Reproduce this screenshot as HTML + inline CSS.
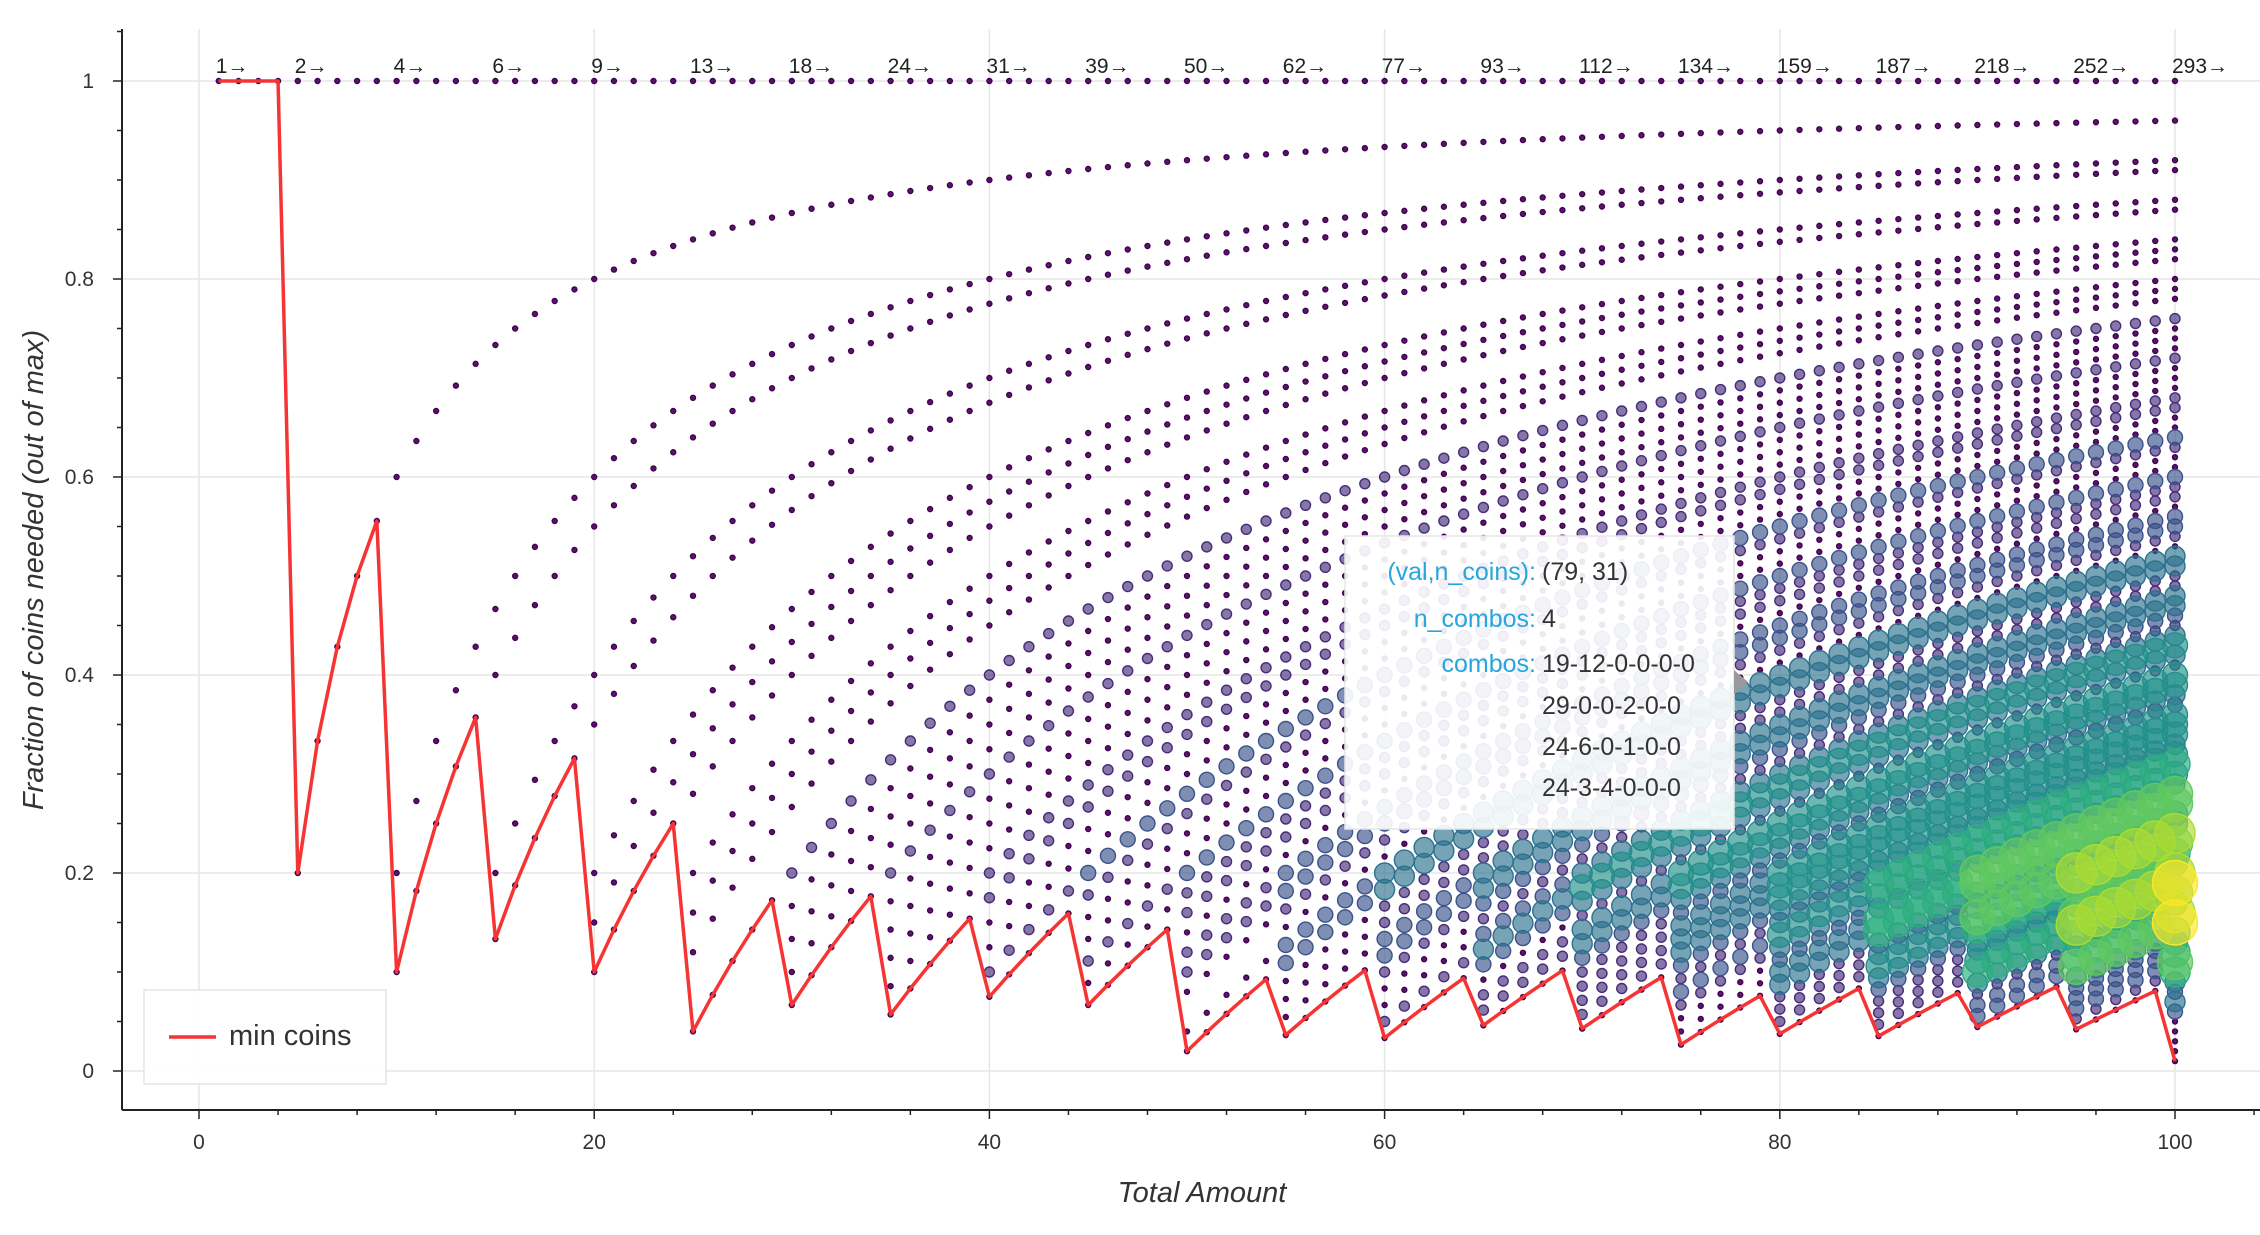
<!DOCTYPE html>
<html><head><meta charset="utf-8">
<style>
html,body{margin:0;padding:0;background:#fff;}
body{width:2260px;height:1230px;overflow:hidden;font-family:"Liberation Sans",sans-serif;}
svg text{font-family:"Liberation Sans",sans-serif;}
</style></head>
<body>
<svg id="chart" width="2260" height="1230" xmlns="http://www.w3.org/2000/svg">
<g id="grid"></g>
<g id="marks"></g>
<g id="axes"></g>
</svg>
<script>
const coins = [1, 5, 10, 25, 50, 100];
const maxAmount = 100;
const xTicks = [0, 20, 40, 60, 80, 100];
const yTicks = [0, 0.2, 0.4, 0.6, 0.8, 1];
const yTickLabels = ["0", "0.2", "0.4", "0.6", "0.8", "1"];
const topLabelX = [1,5,10,15,20,25,30,35,40,45,50,55,60,65,70,75,80,85,90,95,100];
const topLabels = ["1","2","4","6","9","13","18","24","31","39","50","62","77","93","112","134","159","187","218","252","293"];

const NS = "http://www.w3.org/2000/svg";
const L = 122, R = 2260, T = 29, B = 1110;
function sx(v){ return 199 + (v - 0) * (2175 - 199) / 100; }
function sy(v){ return 1071 - v * (1071 - 81); }
function mk(tag, attrs, parent){ const e = document.createElementNS(NS, tag); for (const k in attrs) e.setAttribute(k, attrs[k]); parent.appendChild(e); return e; }

const VIR = [[68,1,84],[72,40,120],[62,74,137],[49,104,142],[38,130,142],[31,158,137],[53,183,121],[110,206,88],[181,222,43],[253,231,37]];
function viridis(t){ t=Math.max(0,Math.min(1,t)); const p=t*(VIR.length-1); const i=Math.min(VIR.length-2,Math.floor(p)); const f=p-i; const a=VIR[i],b=VIR[i+1]; return `rgb(${Math.round(a[0]+(b[0]-a[0])*f)},${Math.round(a[1]+(b[1]-a[1])*f)},${Math.round(a[2]+(b[2]-a[2])*f)})`; }

// count combinations: ways[v][n]
const ways = [];
for (let v = 0; v <= maxAmount; v++){ ways.push(new Array(maxAmount + 1).fill(0)); }
ways[0][0] = 1;
for (const c of coins){
  for (let v = c; v <= maxAmount; v++){
    for (let n = 1; n <= maxAmount; n++){ ways[v][n] += ways[v - c][n - 1]; }
  }
}
let maxC = 1;
for (let v = 1; v <= maxAmount; v++) for (let n = 1; n <= v; n++) if (ways[v][n] > maxC) maxC = ways[v][n];

const grid = document.getElementById('grid');
const axes = document.getElementById('axes');
const marks = document.getElementById('marks');

xTicks.forEach(t => {
  const g = mk('line', {x1:sx(t), x2:sx(t), y1:T, y2:B, stroke:'#e6e6e6', 'stroke-width':1.5}, grid);
  
  
});
yTicks.forEach(t => {
  const g = mk('line', {x1:L, x2:R, y1:sy(t), y2:sy(t), stroke:'#e6e6e6', 'stroke-width':1.5}, grid);
  
  
});

// points
const pts = [];
for (let v = 1; v <= maxAmount; v++){
  for (let n = 1; n <= v; n++){
    const c = ways[v][n];
    if (c > 0) pts.push({v, n, c});
  }
}
pts.sort((a,b) => a.c - b.c);
pts.forEach(p => {
  const col = viridis((p.c - 1) / (maxC - 1));
  const d = 5 * p.c;
  const e = mk('circle', {cx:sx(p.v), cy:sy(p.n / p.v), r:d/2, fill:col, 'fill-opacity':p.c>1?0.65:0.9, stroke:p.c>1?col:'#440154', 'stroke-width':1.4}, marks);
  
  
});

// min coins line
let dpts = [];
for (let v = 1; v <= maxAmount; v++){
  let mn = 0; for (let n = 1; n <= v; n++) if (ways[v][n] > 0){ mn = n; break; }
  dpts.push(sx(v) + ',' + sy(mn / v));
}
const minLine = mk('polyline', {points:dpts.join(' '), fill:'none', stroke:'#f63434', 'stroke-width':3.5, 'stroke-linejoin':'round'}, marks);



// top labels
topLabelX.forEach((x, i) => {
  const t = mk('text', {x:sx(x) - 3, y:73, 'font-size':21, fill:'#222'}, axes);
  t.textContent = topLabels[i] + '→';
  
  
});

// axes lines
let a = mk('line', {x1:L, x2:L, y1:T, y2:B, stroke:'#222', 'stroke-width':2}, axes);
 
a = mk('line', {x1:L, x2:R, y1:B, y2:B, stroke:'#222', 'stroke-width':2}, axes);
 

for (let v = 0; v <= 104; v += 4){
  const major = xTicks.includes(v);
  const t = mk('line', {x1:sx(v), x2:sx(v), y1:B - (major?0:0), y2:B + (major?9:5), stroke:'#222', 'stroke-width':1.5}, axes);
  
  
}
xTicks.forEach(v => {
  const t = mk('text', {x:sx(v), y:B + 39, 'font-size':21, fill:'#333', 'text-anchor':'middle'}, axes);
  t.textContent = String(v);
  
  
});
for (let i = 0; i <= 22; i++){
  const v = i * 0.05; const major = i % 4 === 0;
  if (sy(v) < T) continue;
  const t = mk('line', {x1:L - (major?9:5), x2:L, y1:sy(v), y2:sy(v), stroke:'#222', 'stroke-width':1.5}, axes);
  
  
}
yTicks.forEach((v, i) => {
  const t = mk('text', {x:L - 28, y:sy(v) + 7, 'font-size':21, fill:'#333', 'text-anchor':'end'}, axes);
  t.textContent = yTickLabels[i];
  
  
});
a = mk('text', {x:1202, y:1202, 'font-size':29, 'font-style':'italic', fill:'#333', 'text-anchor':'middle'}, axes);
a.textContent = 'Total Amount';
 
a = mk('text', {x:0, y:0, 'font-size':29, 'font-style':'italic', fill:'#333', 'text-anchor':'middle', transform:'translate(43,570) rotate(-90)'}, axes);
a.textContent = 'Fraction of coins needed (out of max)';
 

// legend
const lg = mk('g', {}, axes);
 
mk('rect', {x:144, y:990, width:242, height:94, fill:'#fff', 'fill-opacity':0.95, stroke:'#e5e5e5', 'stroke-width':1.5}, lg);
mk('line', {x1:169, x2:216, y1:1037, y2:1037, stroke:'#f63434', 'stroke-width':3.5}, lg);
a = mk('text', {x:229, y:1045, 'font-size':29, fill:'#333'}, lg);
a.textContent = 'min coins';
 

// tooltip
const tt = mk('g', {}, axes);
 
mk('rect', {x:1345, y:536, width:389, height:293, fill:'#fff', 'fill-opacity':0.9, stroke:'#e6e6e6', 'stroke-width':1.5}, tt);
mk('polygon', {points:'1734,670 1748,682 1734,694', fill:'#999'}, tt);
const rows = [["(val,n_coins):","(79, 31)",580],["n_combos:","4",627],["combos:","19-12-0-0-0-0",672],["","29-0-0-2-0-0",714],["","24-6-0-1-0-0",755],["","24-3-4-0-0-0",796]];
rows.forEach(r => {
  if (r[0]){ const k = mk('text', {x:1536, y:r[2], 'font-size':25, fill:'#26a5de', 'text-anchor':'end'}, tt); k.textContent = r[0];
      }
  const v = mk('text', {x:1542, y:r[2], 'font-size':25, fill:'#333'}, tt); v.textContent = r[1];
   
});
</script>
</body></html>
